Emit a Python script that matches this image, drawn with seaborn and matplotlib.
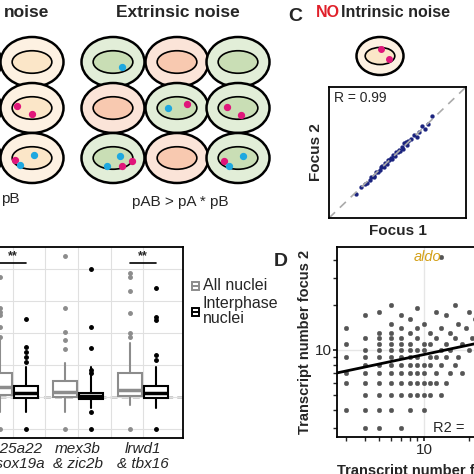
import matplotlib.pyplot as plt
import numpy as np
import seaborn as sns
from matplotlib.patches import Ellipse

sns.set_theme(style="white")
plt.rcParams["font.family"] = ["Liberation Sans", "DejaVu Sans"]

# %% cell sketches (pixel layout of the illustration)
ext_cell_x = [113, 177, 238]
ext_cell_y = [62, 108, 158]
ext_cell_kind = [["g", "p", "g"], ["p", "g", "g"], ["g", "p", "g"]]
# dots: (row, col, dx, dy, colour)
ext_dots = [
    (0, 0, 9, 5, "b"),
    (1, 1, -9, 0, "b"), (1, 1, 10, -4, "r"),
    (1, 2, -11, -1, "r"), (1, 2, 3, 7, "r"),
    (2, 0, 7, -2, "b"), (2, 0, -6, 8, "b"), (2, 0, 9, 8, "r"), (2, 0, 19, 3, "r"),
    (2, 2, -14, 3, "r"), (2, 2, -9, 8, "b"), (2, 2, 5, -2, "b"),
]
int_dots = [(1, -15, -2, "r"), (1, 0, 6, "r"), (2, -17, 2, "r"), (2, -12, 7, "b"), (2, 2, -3, "b")]

# %% panel C data (axis fraction units)
c_x = [0.20, 0.23, 0.26, 0.28, 0.30, 0.31, 0.33, 0.34, 0.36, 0.37, 0.38, 0.40, 0.41, 0.42, 0.44,
       0.45, 0.46, 0.47, 0.48, 0.50, 0.51, 0.52, 0.53, 0.54, 0.55, 0.57, 0.58, 0.60, 0.62, 0.64,
       0.66, 0.68, 0.70, 0.72, 0.75, 0.33, 0.39, 0.43, 0.49, 0.56]
c_y = [0.18, 0.24, 0.26, 0.27, 0.29, 0.31, 0.32, 0.35, 0.35, 0.37, 0.39, 0.39, 0.42, 0.41, 0.44,
       0.46, 0.45, 0.48, 0.47, 0.50, 0.52, 0.51, 0.54, 0.53, 0.57, 0.56, 0.59, 0.60, 0.63, 0.62,
       0.66, 0.70, 0.68, 0.72, 0.78, 0.31, 0.40, 0.44, 0.50, 0.58]

# %% boxplot data (units, dashed line at 0)
box_genes = ["slc25a22\n& sox19a", "mex3b\n& zic2b", "lrwd1\n& tbx16"]
# (whislo, q1, med, q3, whishi)
all_stats = [(-0.47, 0.06, 0.31, 0.75, 1.78), (-0.47, 0.0, 0.16, 0.50, 1.06), (-0.25, 0.03, 0.22, 0.75, 1.69)]
int_stats = [(-0.47, -0.03, 0.12, 0.34, 0.94), (-0.35, -0.06, 0.03, 0.12, 0.94), (-0.34, -0.03, 0.12, 0.34, 0.94)]
all_fliers = [[3.75, 2.78, 2.66, 2.56, 2.19, 1.88, -1], [2.03, 1.78, 1.5, 2.78, 4.41, -1],
              [2.0, 1.88, 2.62, 3.31, 3.88, 3.75, -1]]
int_fliers = [[1.56, 1.41, 1.25, 1.09, 2.44, -1], [2.19, 1.53, 0.84, 0.75, 4.0, -0.47, -1],
              [1.31, 1.16, 2.5, 2.41, 3.41, -1]]
sig_groups = [0, 2]

# %% panel D data (transcript counts)
d_x = [3, 3, 3, 3, 3, 3, 4, 4, 4, 4, 4, 4, 4, 4, 4, 4, 5, 5, 5, 5, 5, 5, 5, 5, 5, 5, 5, 5,
       6, 6, 6, 6, 6, 6, 6, 6, 6, 6, 6, 6, 7, 7, 7, 7, 7, 7, 7, 7, 7, 7, 7, 8, 8, 8, 8, 8, 8,
       8, 8, 8, 8, 9, 9, 9, 9, 9, 9, 9, 9, 9, 10, 10, 10, 10, 10, 10, 10, 10, 11, 11, 11, 11,
       11, 11, 12, 12, 12, 12, 12, 13, 13, 13, 13, 14, 14, 14, 14, 15, 15, 15, 16, 16, 16, 17,
       17, 18, 18, 19, 20, 20, 21, 22, 13]
d_y = [4, 6, 7, 9, 11, 14, 3, 4, 5, 6, 7, 8, 9, 10, 12, 17, 3, 4, 5, 6, 7, 8, 9, 10, 11, 12, 13, 18,
       4, 5, 6, 7, 8, 9, 10, 11, 12, 13, 15, 20, 3, 5, 6, 7, 8, 9, 10, 11, 12, 14, 17, 4, 5, 6, 7, 8, 9,
       10, 11, 13, 16, 5, 6, 7, 8, 9, 10, 12, 14, 19, 4, 5, 6, 7, 8, 10, 11, 15, 5, 6, 8, 9,
       11, 13, 6, 7, 9, 12, 18, 5, 8, 10, 14, 6, 9, 11, 17, 7, 10, 13, 8, 12, 20, 9,
       15, 7, 11, 14, 10, 18, 12, 16, 42]
d_slope = 0.21
d_intercept = 0.76  # log10 space


def rect(x0, y0, x1, y1):
    return [x0 / 474, 1 - y1 / 474, (x1 - x0) / 474, (y1 - y0) / 474]


fig = plt.figure(figsize=(4.74, 4.74), dpi=100)
bg = fig.add_axes([0, 0, 1, 1], zorder=0)
bg.set_xlim(0, 474)
bg.set_ylim(474, 0)
bg.axis("off")

fills = {"g": ("#e2eed8", "#c9deb5"), "p": ("#fbe4d8", "#f8c9b0"), "c": ("#fdf1e2", "#fbe6c8")}
dotc = {"r": "#e0167a", "b": "#1ea8e0"}


def cell(x, y, kind, w=63, h=50):
    o, i = fills[kind]
    bg.add_patch(Ellipse((x, y), w, h, fc=o, ec="black", lw=1.8))
    bg.add_patch(Ellipse((x, y), w * 0.63, h * 0.45, fc=i, ec="black", lw=1.2))


for r, yy in enumerate(ext_cell_y):
    for c, xx in enumerate(ext_cell_x):
        cell(xx, yy, ext_cell_kind[r][c])
    cell(-30, yy, "c")
    cell(32, yy, "c")
for r, c, dx, dy, col in ext_dots:
    bg.scatter(ext_cell_x[c] + dx, ext_cell_y[r] + dy, s=18, color=dotc[col], zorder=5)
for r, dx, dy, col in int_dots:
    bg.scatter(32 + dx, ext_cell_y[r] + dy, s=18, color=dotc[col], zorder=5)

bg.text(27, 12, "noise", fontsize=12.5, weight="bold", ha="center", va="center")
bg.text(178, 12, "Extrinsic noise", fontsize=12.5, weight="bold", ha="center", va="center")
bg.text(1, 199, "pB", fontsize=11, va="center")
bg.text(180, 202, "pAB > pA * pB", fontsize=11, ha="center", va="center")

# panel C
bg.text(288, 16, "C", fontsize=14, weight="bold", va="center")
bg.text(316, 12, "NO", color="#e0202a", fontsize=11.5, weight="bold", va="center")
bg.text(341, 12, "Intrinsic noise", fontsize=11.5, weight="bold", va="center")
cell(380, 56, "c", w=47, h=38)
bg.scatter([381, 389], [49, 59], s=16, color=dotc["r"], zorder=5)

axc = fig.add_axes(rect(329, 87, 466, 218))
axc.plot([0, 1], [0, 1], ls=(0, (5, 4)), color="#aaaaaa", lw=1.2)
sns.scatterplot(x=c_x, y=c_y, ax=axc, color="#1a237e", s=8, edgecolor=None)
axc.set_xlim(0, 1)
axc.set_ylim(0, 1)
axc.set_xticks([])
axc.set_yticks([])
for s in axc.spines.values():
    s.set_color("black")
    s.set_linewidth(1.3)
axc.text(0.04, 0.97, "R = 0.99", transform=axc.transAxes, fontsize=10, va="top")
axc.set_xlabel("Focus 1", fontsize=11, weight="bold", labelpad=4)
axc.set_ylabel("Focus 2", fontsize=11, weight="bold", labelpad=4)

# box panel
axb = fig.add_axes(rect(-27, 247, 183, 438))
for i in range(3):
    for off, stats, fl, col in [(-0.2, all_stats[i], all_fliers[i], "#8c8c8c"),
                                (0.2, int_stats[i], int_fliers[i], "black")]:
        lo, q1, med, q3, hi = stats
        axb.bxp([dict(whislo=lo, q1=q1, med=med, q3=q3, whishi=hi, fliers=fl)],
                positions=[i + off], widths=0.38, showcaps=False, patch_artist=True,
                boxprops=dict(facecolor="white", edgecolor=col, lw=1.5),
                medianprops=dict(color=col, lw=2.5), whiskerprops=dict(color=col, lw=1.5),
                flierprops=dict(marker="o", markersize=2.5, markerfacecolor=col, markeredgecolor=col))
axb.axhline(0, ls=(0, (5, 3)), color="black", lw=1, zorder=0)
for g in sig_groups:
    axb.plot([g - 0.2, g + 0.2], [4.2, 4.2], color="black", lw=1.2)
    axb.text(g, 4.22, "**", ha="center", va="bottom", fontsize=9, weight="bold")
axb.set_xlim(-0.615, 2.615)
axb.set_ylim(-1.28, 4.69)
axb.set_yticks([-1, 0, 1, 2, 3, 4])
axb.set_yticklabels([])
axb.set_xticks([0.5, 1.5], minor=True)
axb.set_xticks(range(3))
axb.set_xticklabels(box_genes, style="italic", fontsize=11, linespacing=1.05)
axb.grid(True, which="both", color="#e0e0e0", lw=0.8)
axb.tick_params(length=0, pad=3)
for s in axb.spines.values():
    s.set_color("black")
    s.set_linewidth(1.3)

# legend
for yy, ty, col, lab in [(286, 286, "#8c8c8c", "All nuclei"), (312, 311, "black", "Interphase\nnuclei")]:
    bg.add_patch(plt.Rectangle((192, yy - 4), 7, 8, fc="white", ec=col, lw=1.4))
    bg.plot([192, 199], [yy, yy], color=col, lw=1.4)
    bg.text(203, ty, lab, fontsize=11.5, va="center", linespacing=1.0)

# panel D
bg.text(274, 262, "D", fontsize=14, weight="bold", va="center")
axd = fig.add_axes(rect(337, 247, 540, 437))
sns.scatterplot(x=d_x, y=d_y, ax=axd, color="#555555", s=11, edgecolor=None)
lx = np.array([2.6, 40])
axd.plot(lx, 10 ** (d_intercept + d_slope * np.log10(lx)), color="black", lw=2)
axd.set_xscale("log")
axd.set_yscale("log")
axd.set_xlim(2.6, 60)
axd.set_ylim(2.63, 48.6)
axd.set_xticks([10])
axd.set_xticklabels(["10"])
axd.set_yticks([10])
axd.set_yticklabels(["10"])
axd.set_yticks([3, 4, 5, 6, 7, 8, 9, 20, 30, 40], minor=True)
axd.set_yticklabels([], minor=True)
axd.set_xticks([3, 4, 5, 6, 7, 8, 9, 20, 30, 40, 50], minor=True)
axd.set_xticklabels([], minor=True)
axd.grid(True, which="major", color="#e6e6e6")
axd.tick_params(which="both", left=True, bottom=True, length=3, labelsize=11, pad=1)
for s in axd.spines.values():
    s.set_color("black")
    s.set_linewidth(1.3)
axd.text(8.5, 42, "aldo", color="#d4a017", style="italic", fontsize=10.5, va="center")
axd.text(11.5, 3.0, "R2 =", fontsize=10.5, va="center")
axd.set_xlabel("Transcript number focus 1", fontsize=10.5, weight="bold")
axd.set_ylabel("Transcript number focus 2", fontsize=10.5, weight="bold", labelpad=2)
axd.xaxis.set_label_coords(0.0, -0.14)
axd.xaxis.label.set_ha("left")

fig.savefig("out.png", dpi=100)
